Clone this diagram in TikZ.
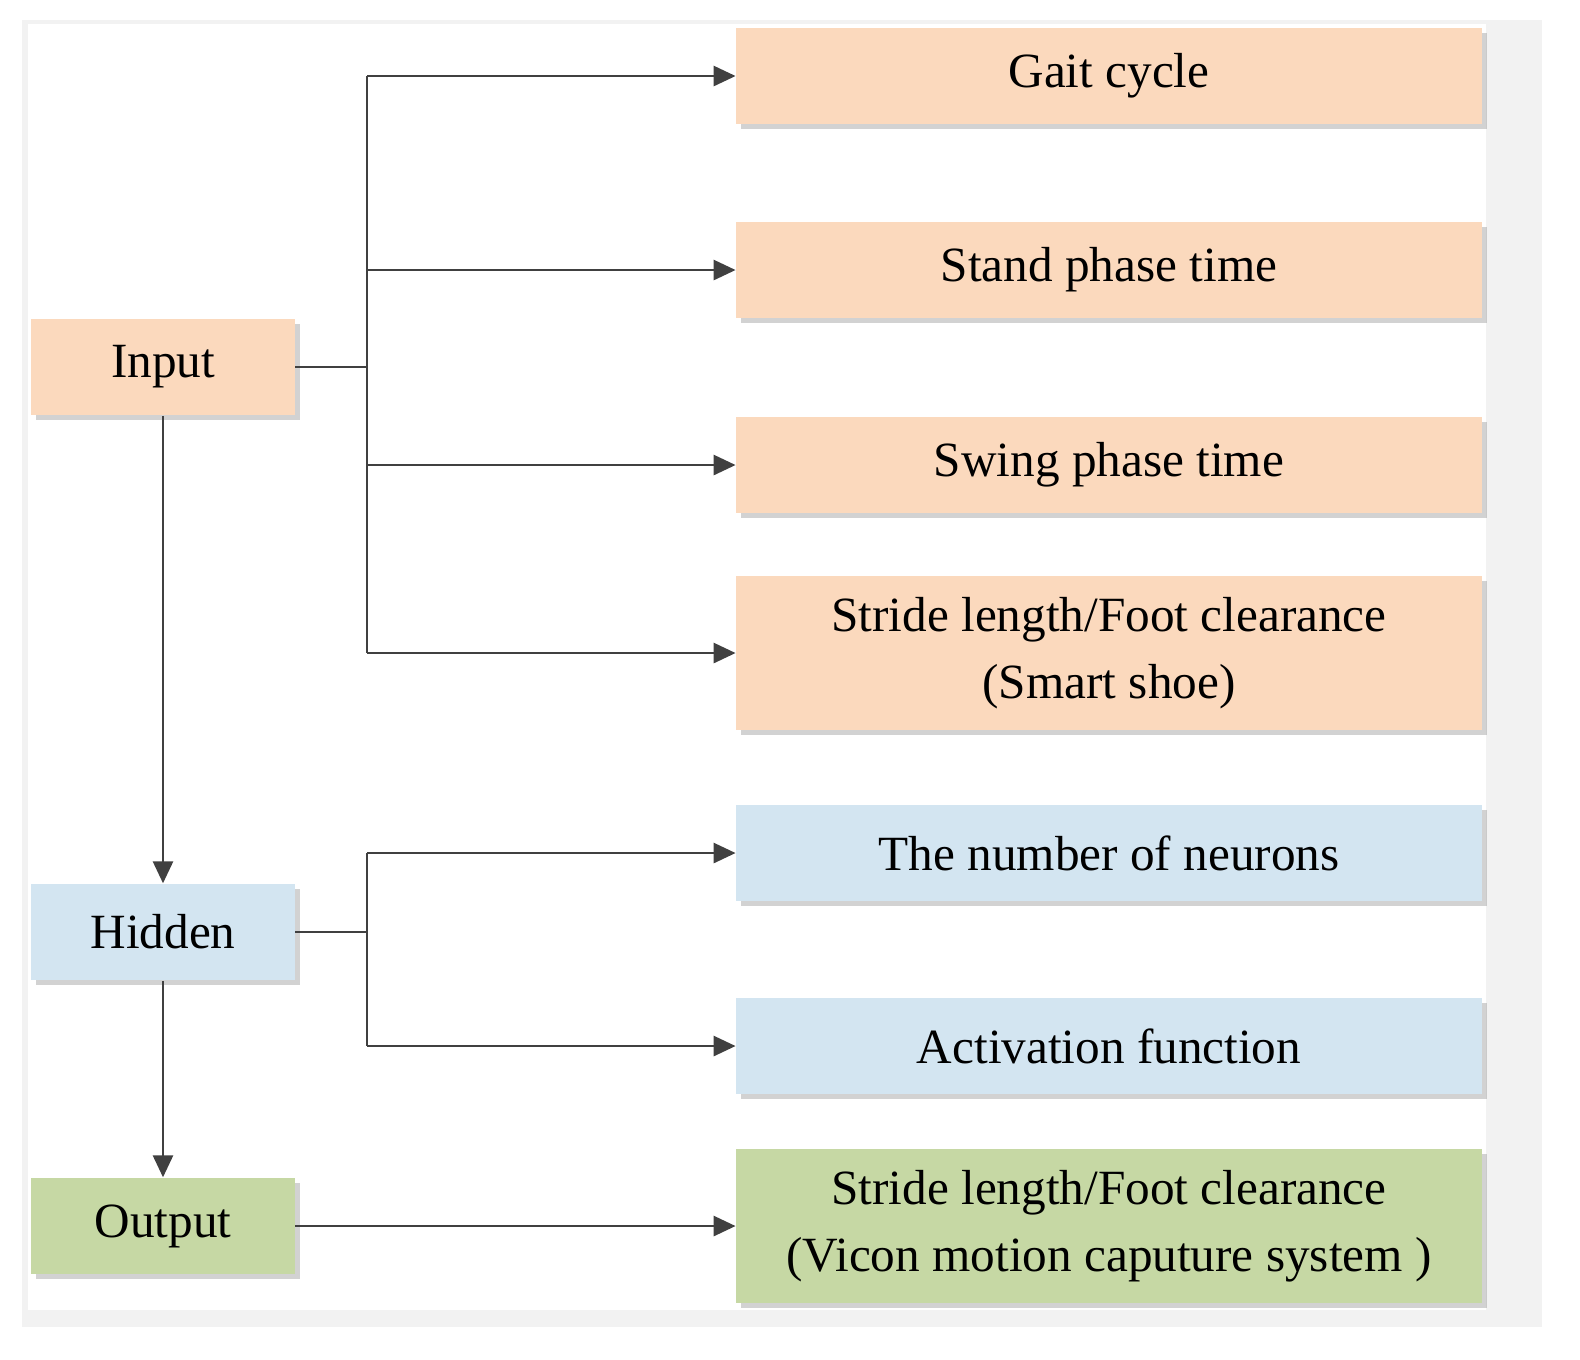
\documentclass[tikz,border=0pt]{standalone}
\usepackage{fontspec}
\setmainfont{Liberation Serif}
\usetikzlibrary{arrows.meta,shadows}
\definecolor{inorange}{HTML}{FBD9BD}
\definecolor{hidblue}{HTML}{D3E5F1}
\definecolor{outgreen}{HTML}{C6D8A4}
\definecolor{linegray}{HTML}{404040}
\tikzset{
  box/.style={draw=none, minimum height=0.96cm, align=center, inner sep=0pt,
    font=\fontsize{14}{19}\selectfont, drop shadow={shadow xshift=0.5mm, shadow yshift=-0.5mm, opacity=0.35}},
  lbox/.style={box, minimum width=2.63cm},
  rbox/.style={box, minimum width=7.45cm},
  conn/.style={draw=linegray, line width=0.8pt},
  arr/.style={conn, -{Triangle[length=2.2mm,width=2mm]}}
}
\begin{document}
\begin{tikzpicture}[x=0.01cm,y=-0.01cm]
\useasboundingbox (0,0) rectangle (1580,1359);
\fill[gray!10] (22,20) rectangle (1542,1327);
\fill[white] (28,24) rectangle (1486,1310);

\node[lbox, fill=inorange] (in) at (163,367) {Input};
\node[lbox, fill=hidblue] (hid) at (163,932) {Hidden};
\node[lbox, fill=outgreen] (out) at (163,1226) {Output};

\node[rbox, fill=inorange] (gait) at (1109,76) {Gait cycle};
\node[rbox, fill=inorange] (stand) at (1109,270) {Stand phase time};
\node[rbox, fill=inorange] (swing) at (1109,465) {Swing phase time};
\node[rbox, fill=inorange, minimum height=1.54cm] (stride) at (1109,653) {Stride length/Foot clearance\\(Smart shoe)};
\node[rbox, fill=hidblue] (neur) at (1109,853) {The number of neurons};
\node[rbox, fill=hidblue] (act) at (1109,1046) {Activation function};
\node[rbox, fill=outgreen, minimum height=1.54cm] (vicon) at (1109,1226) {Stride length/Foot clearance\\(Vicon motion caputure system )};

\coordinate (bi) at (367,367);
\coordinate (bh) at (367,932);
\draw[conn] (in.east) -- (bi);
\draw[conn] (367,76) -- (367,653);
\draw[arr] (gait.west -| bi) -- (gait.west);
\draw[arr] (stand.west -| bi) -- (stand.west);
\draw[arr] (swing.west -| bi) -- (swing.west);
\draw[arr] (stride.west -| bi) -- (stride.west);

\draw[conn] (hid.east) -- (bh);
\draw[conn] (367,853) -- (367,1046);
\draw[arr] (neur.west -| bh) -- (neur.west);
\draw[arr] (act.west -| bh) -- (act.west);

\draw[arr] (out.east) -- (vicon.west);
\draw[arr] (in.south) -- (hid.north);
\draw[arr] (hid.south) -- (out.north);
\end{tikzpicture}
\end{document}
